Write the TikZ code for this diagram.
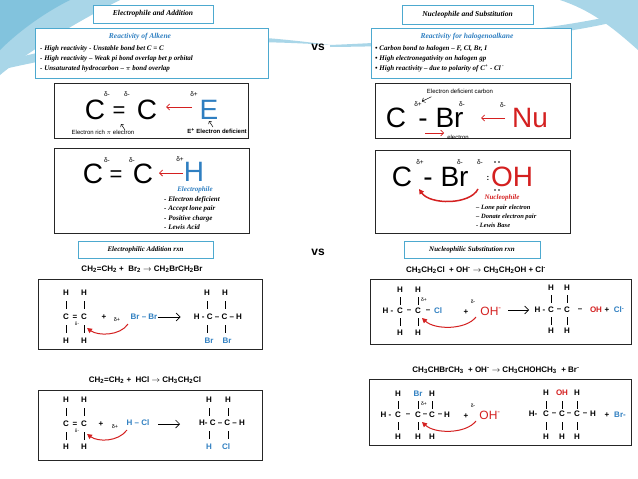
\documentclass[tikz,border=0pt]{standalone}
\usepackage{fontspec}
\setmainfont{Liberation Serif}
\setsansfont{Liberation Sans}
\usetikzlibrary{arrows.meta}
\definecolor{sky}{HTML}{4DA9CF}
\definecolor{lsky}{HTML}{A9D6E8}
\definecolor{hblue}{HTML}{2F7FC1}
\definecolor{hred}{HTML}{D42020}
\newcounter{nn}
\newcommand\ch[3][]{\stepcounter{nn}\node[chem,#1] (c\thenn) at (#2) {#3};}
\newcommand\vb[2]{\draw[thick] (#1,#2-4) -- (#1,#2+4);}
\tikzset{
 head/.style={draw=sky,line width=1pt,fill=white,font=\rmfamily\bfseries\itshape\fontsize{7.5}{8}\selectfont,inner sep=0pt},
 rbox/.style={draw=sky,line width=1pt,fill=white},
 frame/.style={draw=black!85,line width=0.8pt,fill=white},
 big/.style={font=\sffamily\fontsize{28}{28}\selectfont,inner sep=0pt},
 chem/.style={font=\sffamily\bfseries\fontsize{8}{9}\selectfont,inner sep=0pt},
 dlt/.style={font=\sffamily\fontsize{6.5}{7}\selectfont,inner sep=0pt},
 itl/.style={font=\rmfamily\bfseries\itshape\fontsize{6.5}{7.5}\selectfont,inner sep=0pt,align=left,anchor=west},
 rarr/.style={hred,line width=0.8pt,-{Straight Barb[length=3pt]}},
 curv/.style={hred,line width=1.5pt,-{Triangle[length=5pt,width=5pt]}},
 barr/.style={black,line width=0.7pt,-{Straight Barb[length=4pt]}},
}
\begin{document}
\begin{tikzpicture}[x=1pt,y=-1pt]
\useasboundingbox (0,0) rectangle (638,479);
\fill[white] (0,0) rectangle (638,479);
% background swooshes
\fill[lsky] (0,0) -- (120,0) .. controls (80,20) and (30,50) .. (0,75) -- cycle;
\fill[sky!70] (0,0) -- (70,0) .. controls (40,15) and (15,35) .. (0,50) -- cycle;
\fill[lsky] (0,62) .. controls (120,30) and (220,30) .. (330,45) .. controls (220,38) and (120,42) .. (0,70) -- cycle;
\fill[lsky] (560,0) -- (638,0) -- (638,50) .. controls (610,25) and (590,10) .. cycle;
\fill[lsky] (330,45) .. controls (450,40) and (560,30) .. (638,10) -- (638,16) .. controls (560,38) and (450,46) .. (330,47) -- cycle;
% headers
\node[head,minimum width=120pt,minimum height=18pt] (h1) at (153,14) {Electrophile and Addition};
\node[head,minimum width=131pt,minimum height=19pt] (h2) at (467.5,14.5) {Nucleophile and Substitution};
\node[rbox,minimum width=233pt,minimum height=50pt] (r1) at (151.5,53) {};
\node[font=\rmfamily\bfseries\itshape\fontsize{7.5}{8}\selectfont,text=hblue] (r1t) at (140,37) {Reactivity of Alkene};
\node[itl,font=\rmfamily\bfseries\itshape\fontsize{7}{10}\selectfont] (r1l) at (40,59) {- High reactivity - Unstable bond bet C = C\\- High reactivity -- Weak pi bond overlap bet p orbital\\- Unsaturated hydrocarbon -- $\pi$ bond overlap};
\node[rbox,minimum width=200pt,minimum height=50pt] (r2) at (471,53) {};
\node[font=\rmfamily\bfseries\itshape\fontsize{7.5}{8}\selectfont,text=hblue] (r2t) at (467,37) {Reactivity for halogenoalkane};
\node[itl,font=\rmfamily\bfseries\itshape\fontsize{7}{10}\selectfont] (r2l) at (375,59) {• Carbon bond to halogen -- F, Cl, Br, I\\• High electronegativity on halogen gp\\• High reactivity --  due to polarity of C\textsuperscript{+} - Cl\textsuperscript{ -}};
\node[font=\sffamily\bfseries\fontsize{12}{12}\selectfont] (vs1) at (318,47) {vs};
\node[font=\sffamily\bfseries\fontsize{12}{12}\selectfont] (vs2) at (318,252) {vs};
% left box 1
\node[frame,minimum width=194pt,minimum height=55pt] (b1) at (151,110.5) {};
\node[big] (a1) at (95,110) {C};
\node[big,font=\sffamily\fontsize{22}{22}\selectfont] (a2) at (119,112) {=};
\node[big] (a3) at (147,110) {C};
\node[dlt] (d1) at (107,94) {δ-};
\node[dlt] (d2) at (127,94) {δ-};
\node[dlt] (d3) at (194,94) {δ+};
\node[big,text=hblue] (a4) at (209,110) {E};
\draw[rarr] (192,107) -- (166,107);
\node[font=\sffamily\fontsize{6}{6}\selectfont] (l1) at (103,132) {Electron rich $\pi$ electron};
\node[font=\sffamily\bfseries\fontsize{6}{6}\selectfont] (l2) at (217,131) {E\textsuperscript{+} Electron deficient};
\draw[black,line width=0.5pt,-{Straight Barb[length=2pt]}] (125,130) -- (121,124);
\draw[black,line width=0.5pt,-{Straight Barb[length=2pt]}] (213,127) -- (209,121);
% left box 2
\node[frame,minimum width=195pt,minimum height=85pt] (b2) at (151.5,190.5) {};
\node[big] (e1) at (93,174) {C};
\node[big,font=\sffamily\fontsize{22}{22}\selectfont] (e2) at (116,176) {=};
\node[big] (e3) at (143,174) {C};
\node[dlt] (e4) at (107,160) {δ-};
\node[dlt] (e5) at (132,160) {δ-};
\node[dlt] (e6) at (180,159) {δ+};
\node[big,text=hblue] (e7) at (194,172) {H};
\draw[rarr] (183,173) -- (159,173);
\node[font=\rmfamily\bfseries\itshape\fontsize{7}{8}\selectfont,text=hblue] (e8) at (195,190) {Electrophile};
\node[itl,font=\rmfamily\bfseries\itshape\fontsize{7}{9.5}\selectfont] (e9) at (164,213) {- Electron deficient\\- Accept lone pair\\- Positive charge\\- Lewis Acid};
% right box 1
\node[frame,minimum width=195pt,minimum height=55pt] (b3) at (472.5,110.5) {};
\node[font=\sffamily\fontsize{6}{6}\selectfont] (f0) at (460,91) {Electron deficient carbon};
\node[big] (f1) at (396,118) {C};
\node[big] (f2) at (441,118) {- Br};
\node[dlt] (f3) at (418,104) {δ+};
\node[dlt] (f4) at (462,104) {δ-};
\node[dlt] (f5) at (503,105) {δ-};
\node[big,text=hred] (f6) at (530,118) {Nu};
\draw[rarr] (505,118) -- (481,118);
\draw[black,line width=0.5pt,-{Straight Barb[length=2.5pt]}] (f0.south west) ++(8,0) -- (f3.north east);
\draw[rarr,line width=0.6pt] (425,133) -- (444,133);
\node[font=\sffamily\fontsize{6}{6}\selectfont] (f7) at (458,137) {electron};
% right box 2
\node[frame,minimum width=195pt,minimum height=83pt] (b4) at (472.5,191.5) {};
\node[big] (g1) at (402,177) {C};
\node[big] (g2) at (446,177) {- Br};
\node[dlt] (g3) at (420,162) {δ+};
\node[dlt] (g4) at (460,162) {δ-};
\node[dlt] (g5) at (480,162) {δ-};
\node[big,text=hred] (g6) at (512,177) {OH};
\node[font=\sffamily\bfseries\fontsize{8}{8}\selectfont] (g7) at (488,178) {:};
\fill (495,162) circle (0.8) (499,162) circle (0.8) (495,190) circle (0.8) (499,190) circle (0.8);
\draw[curv] (478,189) .. controls (470,205) and (430,205) .. (419,189);
\node[font=\rmfamily\bfseries\itshape\fontsize{7}{8}\selectfont,text=hred] (g10) at (502,198) {Nucleophile};
\node[itl,font=\rmfamily\bfseries\itshape\fontsize{6.5}{9}\selectfont] (g11) at (476,216) {-- Lone pair electron\\-- Donate electron pair\\- Lewis Base};
% bottom headers
\node[head,font=\rmfamily\bfseries\itshape\fontsize{7}{8}\selectfont,minimum width=135pt,minimum height=17pt] (h3) at (145.5,250) {Electrophilic Addition rxn};
\node[head,font=\rmfamily\bfseries\itshape\fontsize{7}{8}\selectfont,minimum width=136pt,minimum height=17pt] (h4) at (472,250) {Nucleophilic Substitution rxn};
% equations
\ch{142,269}{CH\textsubscript{2}=CH\textsubscript{2} +\ \ Br\textsubscript{2} $\rightarrow$ CH\textsubscript{2}BrCH\textsubscript{2}Br}
\ch{145,380}{CH\textsubscript{2}=CH\textsubscript{2} +\ \ HCl $\rightarrow$ CH\textsubscript{3}CH\textsubscript{2}Cl}
\ch{476,270}{CH\textsubscript{3}CH\textsubscript{2}Cl\ \ + OH\textsuperscript{-} $\rightarrow$ CH\textsubscript{3}CH\textsubscript{2}OH + Cl\textsuperscript{-}}
\ch{496,370}{CH\textsubscript{3}CHBrCH\textsubscript{3}\ \ + OH\textsuperscript{-} $\rightarrow$ CH\textsubscript{3}CHOHCH\textsubscript{3}\ \ + Br\textsuperscript{-}}
% bottom left 1
\node[frame,minimum width=224pt,minimum height=70pt] (b5) at (150,314) {};
\ch{66,293}{H}\ch{84,293}{H}\vb{66}{305}\vb{84}{305}
\ch{66,317}{C}\ch{75,317}{=}\ch{84,317}{C}\vb{66}{329}\vb{84}{329}
\ch{66,341}{H}\ch{84,341}{H}
\node[dlt,font=\sffamily\fontsize{4.5}{4}\selectfont] (x1) at (77,324) {δ-};
\ch{104,317}{+}\node[dlt,font=\sffamily\fontsize{5.5}{5}\selectfont] (x2) at (117,320) {δ+};
\ch[text=hblue]{144,317}{Br -- Br}
\draw[barr] (c\thenn.east) -- ++(23,0);
\ch{218,317}{H - C -- C -- H}
\ch{207,293}{H}\ch{225,293}{H}\vb{207}{305}\vb{225}{305}\vb{207}{329}\vb{225}{329}
\ch[text=hblue]{209,341}{Br}\ch[text=hblue]{227,341}{Br}
\draw[curv,line width=1pt] (128,324) .. controls (120,336) and (98,336) .. (87,328);
% bottom left 2
\node[frame,minimum width=224pt,minimum height=70pt] (b6) at (150,425) {};
\ch{66,400}{H}\ch{84,400}{H}\vb{66}{412}\vb{84}{412}
\ch{66,424}{C}\ch{75,424}{=}\ch{84,424}{C}\vb{66}{436}\vb{84}{436}
\ch{66,447}{H}\ch{84,447}{H}
\node[dlt,font=\sffamily\fontsize{4.5}{4}\selectfont] (x3) at (77,431) {δ-};
\ch{101,424}{+}\node[dlt,font=\sffamily\fontsize{5.5}{5}\selectfont] (x4) at (115,427) {δ+};
\ch[text=hblue]{138,423}{H -- Cl}
\draw[barr] (158,424) -- (180,424);
\ch{222,423}{H- C -- C -- H}
\ch{209,400}{H}\ch{228,400}{H}\vb{209}{412}\vb{228}{412}\vb{209}{435}\vb{228}{435}
\ch[text=hblue]{209,447}{H}\ch[text=hblue]{226,447}{Cl}
\draw[curv,line width=1pt] (127,430) .. controls (118,442) and (98,442) .. (87,434);
% bottom right 1
\node[frame,minimum width=261pt,minimum height=65pt] (b7) at (500.5,311.5) {};
\ch{400,290}{H}\ch{418,290}{H}\vb{400}{301}\vb{418}{301}
\node[dlt,font=\sffamily\fontsize{5}{5}\selectfont] (y1) at (424,300) {δ+};
\ch{388,311}{H -}\ch{400,311}{C}\ch{409,311}{--}\ch{418,311}{C}\ch{428,311}{--}\ch[text=hblue]{438,311}{Cl}
\vb{400}{322}\vb{418}{322}\ch{400,333}{H}\ch{418,333}{H}
\ch{466,312}{+}\node[dlt,font=\sffamily\fontsize{5}{5}\selectfont] (y2) at (473,302) {δ-};
\node[font=\sffamily\fontsize{12}{12}\selectfont,text=hred,inner sep=0pt] (y3) at (491,311) {OH\textsuperscript{-}};
\draw[barr] (508,310) -- (529,310);
\ch{551,288}{H}\ch{567,288}{H}\vb{551}{299}\vb{567}{299}
\ch{540,310}{H -}\ch{551,310}{C}\ch{559,310}{--}\ch{567,310}{C}\ch{580,310}{--}\ch[text=hred]{596,310}{OH}\ch{607,310}{+}\ch[text=hblue]{619,310}{Cl\textsuperscript{-}}
\vb{551}{321}\vb{567}{321}\ch{551,331}{H}\ch{567,331}{H}
\draw[curv,line width=1pt] (476,317) .. controls (466,330) and (435,330) .. (422,318);
% bottom right 2
\node[frame,minimum width=262pt,minimum height=66pt] (b8) at (500,412) {};
\ch{398,394}{H}\ch[text=hblue]{418,394}{Br}\ch{432,394}{H}
\vb{398}{405}\vb{418}{405}\vb{432}{405}
\node[dlt,font=\sffamily\fontsize{5}{5}\selectfont] (z1) at (424,404) {δ+};
\ch{386,415}{H -}\ch{398,415}{C}\ch{408,415}{--}\ch{418,415}{C}\ch{425,415}{--}\ch{432,415}{C}\ch{440,415}{--}\ch{447,415}{H}
\vb{398}{426}\vb{418}{426}\ch{398,437}{H}\ch{418,437}{H}\ch{432,437}{H}
\ch{466,416}{+}\node[dlt,font=\sffamily\fontsize{5}{5}\selectfont] (z2) at (473,406) {δ-};
\node[font=\sffamily\fontsize{12}{12}\selectfont,text=hred,inner sep=0pt] (z3) at (490,415) {OH\textsuperscript{-}};
\ch{546,393}{H}\ch[text=hred]{562,393}{OH}\ch{577,393}{H}
\vb{546}{405}\vb{562}{405}\vb{577}{405}
\ch{533,414}{H-}\ch{546,414}{C}\ch{554,414}{--}\ch{562,414}{C}\ch{569,414}{--}\ch{577,414}{C}\ch{585,414}{--}\ch{593,414}{H}
\ch{607,415}{+}\ch[text=hblue]{620,415}{Br-}
\vb{546}{426}\vb{562}{426}\vb{577}{426}
\ch{546,437}{H}\ch{562,437}{H}\ch{577,437}{H}
\draw[curv,line width=1pt] (476,421) .. controls (466,434) and (435,434) .. (422,422);
\end{tikzpicture}
\end{document}
